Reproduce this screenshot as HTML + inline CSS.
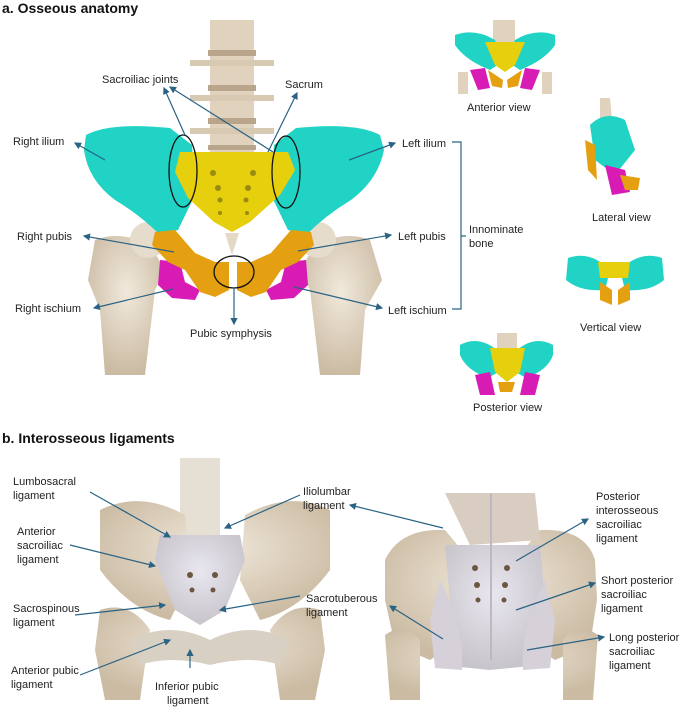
<!DOCTYPE html>
<html><head><meta charset="utf-8"><style>
body{margin:0;background:#fff;}
svg{display:block;font-family:"Liberation Sans",Arial,sans-serif;}
.t{font-size:11px;fill:#222;}
.h{font-size:14px;font-weight:bold;fill:#111;}
.l{stroke:#2b6384;stroke-width:1.2;fill:none;marker-end:url(#a);}
</style></head><body>
<svg width="685" height="709" viewBox="0 0 685 709">
<defs>
<marker id="a" markerWidth="6" markerHeight="6" refX="5" refY="3" orient="auto"><path d="M0,0L6,3L0,6z" fill="#2b6384"/></marker>
<radialGradient id="g" cx="50%" cy="40%" r="60%"><stop offset="0" stop-color="#f1e9dc"/><stop offset="1" stop-color="#cbbba3"/></radialGradient>
<radialGradient id="w" cx="50%" cy="40%" r="60%"><stop offset="0" stop-color="#e8e6ee"/><stop offset="1" stop-color="#c8c4cc"/></radialGradient>
</defs>
<text x="2" y="13" class="h">a. Osseous anatomy</text>
<text x="2" y="443" class="h">b. Interosseous ligaments</text>

<!-- femurs -->
<path d="M95,240 Q120,230 150,245 L165,270 L155,290 L145,375 L105,375 L100,310 L88,280 Z" fill="url(#g)"/>
<path d="M370,240 Q345,230 315,245 L300,270 L310,290 L320,375 L360,375 L365,310 L382,280 Z" fill="url(#g)"/>
<circle cx="148" cy="240" r="18" fill="#e6dccb"/><circle cx="318" cy="240" r="18" fill="#e6dccb"/>
<!-- spine -->
<rect x="210" y="20" width="44" height="135" fill="#e0d2bd"/>
<g fill="#b9a48c"><rect x="208" y="50" width="48" height="6"/><rect x="208" y="85" width="48" height="6"/><rect x="208" y="118" width="48" height="6"/><rect x="208" y="145" width="48" height="5"/></g>
<rect x="190" y="60" width="84" height="6" fill="#d8c9b3"/><rect x="190" y="95" width="84" height="6" fill="#d8c9b3"/><rect x="190" y="128" width="84" height="6" fill="#d8c9b3"/>
<!-- ilia -->
<path d="M86,135 Q110,122 170,128 L192,145 L195,195 L178,230 L160,235 Q140,215 115,200 Q88,180 84,150 Z" fill="#20d3c4"/>
<path d="M380,135 Q356,122 296,128 L274,145 L271,195 L288,230 L306,235 Q326,215 351,200 Q378,180 384,150 Z" fill="#20d3c4"/>
<!-- sacrum -->
<path d="M180,152 L288,152 L295,170 L280,195 L250,222 L232,232 L214,222 L188,198 L175,172 Z" fill="#e6cf0c"/>
<g fill="#9a8a10"><circle cx="213" cy="173" r="3"/><circle cx="253" cy="173" r="3"/><circle cx="218" cy="188" r="3"/><circle cx="248" cy="188" r="3"/><circle cx="220" cy="200" r="2.5"/><circle cx="246" cy="200" r="2.5"/><circle cx="220" cy="213" r="2"/><circle cx="247" cy="213" r="2"/></g>
<path d="M225,233 L239,233 L232,255 Z" fill="#e4d8c6"/>
<!-- ischium -->
<path d="M160,260 L180,262 L185,282 L200,290 L195,300 L172,298 L158,285 Z" fill="#d81bb4"/>
<path d="M306,260 L286,262 L281,282 L266,290 L271,300 L294,298 L308,285 Z" fill="#d81bb4"/>
<!-- pubis -->
<path d="M155,232 L175,230 L195,253 L215,262 L229,262 L229,290 L215,297 L200,292 L185,270 L168,262 L152,245 Z" fill="#e5a012"/>
<path d="M311,232 L291,230 L271,253 L251,262 L237,262 L237,290 L251,297 L266,292 L281,270 L298,262 L314,245 Z" fill="#e5a012"/>
<!-- ellipses -->
<ellipse cx="183" cy="171" rx="14" ry="36" fill="none" stroke="#111" stroke-width="1.3"/>
<ellipse cx="286" cy="172" rx="14" ry="36" fill="none" stroke="#111" stroke-width="1.3"/>
<ellipse cx="234" cy="272" rx="20" ry="16" fill="none" stroke="#111" stroke-width="1.3"/>
<!-- labels -->
<text x="102" y="83" class="t">Sacroiliac joints</text>
<text x="285" y="88" class="t">Sacrum</text>
<text x="13" y="145" class="t">Right ilium</text>
<text x="17" y="240" class="t">Right pubis</text>
<text x="15" y="312" class="t">Right ischium</text>
<text x="190" y="337" class="t">Pubic symphysis</text>
<text x="402" y="147" class="t">Left ilium</text>
<text x="398" y="240" class="t">Left pubis</text>
<text x="388" y="314" class="t">Left ischium</text>
<text x="469" y="233" class="t">Innominate</text>
<text x="469" y="247" class="t">bone</text>
<path d="M185,135 L164,88" class="l"/><path d="M273,152 L170,87" class="l"/>
<path d="M268,152 L297,93" class="l"/>
<path d="M105,160 L75,143" class="l"/><path d="M174,252 L84,236" class="l"/>
<path d="M173,289 L94,308" class="l"/><path d="M234,288 L234,324" class="l"/>
<path d="M349,160 L395,143" class="l"/><path d="M298,251 L391,235" class="l"/>
<path d="M294,287 L382,308" class="l"/>
<path d="M452,142 H461 V309 H452 M461,236 H466" stroke="#2b6384" stroke-width="1.2" fill="none"/>
<!-- small views -->
<rect x="493" y="20" width="22" height="30" fill="#e0d2bd"/>
<path d="M455,35 Q475,28 495,40 L505,60 L490,70 Q465,60 455,45Z M555,35 Q535,28 515,40 L505,60 L520,70 Q545,60 555,45Z" fill="#20d3c4"/>
<path d="M485,42 L525,42 L515,65 L505,72 L495,65Z" fill="#e6cf0c"/>
<path d="M470,70 L485,68 L490,88 L478,90Z M540,70 L525,68 L520,88 L532,90Z" fill="#d81bb4"/>
<path d="M488,70 L503,80 L502,88 L492,86Z M522,70 L507,80 L508,88 L518,86Z" fill="#e5a012"/>
<rect x="458" y="72" width="10" height="22" fill="#e0d2bd"/><rect x="542" y="72" width="10" height="22" fill="#e0d2bd"/>
<text x="467" y="111" class="t">Anterior view</text>
<path d="M600,98 L610,98 L612,120 L600,125Z" fill="#e0d2bd"/>
<path d="M590,125 Q605,110 625,120 L635,150 L615,175 L595,160Z" fill="#20d3c4"/>
<path d="M585,140 L595,145 L597,180 L588,170Z" fill="#e5a012"/>
<path d="M605,165 L625,170 L630,192 L612,195Z" fill="#d81bb4"/>
<path d="M620,175 L640,178 L638,190 L625,190Z" fill="#e5a012"/>
<text x="592" y="221" class="t">Lateral view</text>
<path d="M568,258 Q590,250 610,270 L605,290 Q580,292 566,280Z M662,258 Q640,250 620,270 L625,290 Q650,292 664,280Z" fill="#20d3c4"/>
<path d="M598,262 L630,262 L628,278 L600,278Z" fill="#e6cf0c"/>
<path d="M600,282 L612,290 L612,305 L600,300Z M630,282 L618,290 L618,305 L630,300Z" fill="#e5a012"/>
<text x="580" y="331" class="t">Vertical view</text>
<rect x="497" y="333" width="20" height="15" fill="#e0d2bd"/>
<path d="M460,345 Q478,335 497,350 L502,370 L488,378 Q466,370 460,355Z M553,345 Q535,335 517,350 L512,370 L526,378 Q548,370 553,355Z" fill="#20d3c4"/>
<path d="M490,348 L525,348 L520,372 L507,382 L495,372Z" fill="#e6cf0c"/>
<path d="M475,375 L490,372 L495,395 L480,395Z M540,375 L525,372 L520,395 L535,395Z" fill="#d81bb4"/>
<path d="M498,382 L515,382 L512,392 L500,392Z" fill="#e5a012"/>
<text x="473" y="411" class="t">Posterior view</text>

<!-- b left -->
<rect x="180" y="458" width="40" height="110" fill="#e6dfd4"/>
<path d="M100,510 Q140,490 185,515 L190,580 L170,620 Q130,610 100,570 Z M330,510 Q290,490 245,515 L240,580 L260,620 Q300,610 330,570Z" fill="url(#g)"/>
<path d="M160,535 L240,535 L245,560 L225,610 L200,625 L175,610 L155,560Z" fill="url(#w)"/>
<path d="M100,610 Q130,600 150,630 L140,700 L105,700 L95,650Z M320,610 Q290,600 270,630 L280,700 L315,700 L325,650Z" fill="url(#g)"/>
<path d="M130,640 Q170,620 210,640 Q250,620 290,640 L280,665 Q250,655 210,665 Q170,655 140,665Z" fill="#d9d0c4"/>
<g fill="#6b5640"><circle cx="190" cy="575" r="3"/><circle cx="215" cy="575" r="3"/><circle cx="192" cy="590" r="2.5"/><circle cx="213" cy="590" r="2.5"/></g>
<!-- b right -->
<path d="M385,560 Q400,528 445,530 L470,560 L460,640 L430,660 L395,645 L385,600Z M595,560 Q585,528 540,530 L515,560 L525,640 L555,660 L590,645 L597,600Z" fill="url(#g)"/>
<path d="M445,493 L535,493 L540,540 L470,545 Z" fill="#d8cdc0"/>
<path d="M445,545 L540,545 L545,600 L540,665 L490,670 L440,665 L450,600Z" fill="url(#w)"/>
<path d="M440,580 Q465,630 462,670 L435,668 L430,620Z M545,580 Q520,630 523,670 L550,668 L555,620Z" fill="#d6d0d8"/>
<path d="M385,635 Q405,620 420,640 L420,700 L390,700Z M598,635 Q578,620 563,640 L563,700 L593,700Z" fill="url(#g)"/>
<g fill="#6b5640"><circle cx="475" cy="568" r="3"/><circle cx="507" cy="568" r="3"/><circle cx="477" cy="585" r="3"/><circle cx="505" cy="585" r="3"/><circle cx="478" cy="600" r="2.5"/><circle cx="504" cy="600" r="2.5"/></g>
<line x1="491" y1="493" x2="491" y2="660" stroke="#bfb8c0" stroke-width="2"/>
<!-- b labels -->
<text x="13" y="485" class="t">Lumbosacral</text><text x="13" y="499" class="t">ligament</text>
<text x="17" y="535" class="t">Anterior</text><text x="17" y="549" class="t">sacroiliac</text><text x="17" y="563" class="t">ligament</text>
<text x="13" y="612" class="t">Sacrospinous</text><text x="13" y="626" class="t">ligament</text>
<text x="11" y="674" class="t">Anterior pubic</text><text x="11" y="688" class="t">ligament</text>
<text x="155" y="690" class="t">Inferior pubic</text><text x="167" y="704" class="t">ligament</text>
<text x="303" y="495" class="t">Iliolumbar</text><text x="303" y="509" class="t">ligament</text>
<text x="306" y="602" class="t">Sacrotuberous</text><text x="306" y="616" class="t">ligament</text>
<text x="596" y="500" class="t">Posterior</text><text x="596" y="514" class="t">interosseous</text><text x="596" y="528" class="t">sacroiliac</text><text x="596" y="542" class="t">ligament</text>
<text x="601" y="584" class="t">Short posterior</text><text x="601" y="598" class="t">sacroiliac</text><text x="601" y="612" class="t">ligament</text>
<text x="609" y="641" class="t">Long posterior</text><text x="609" y="655" class="t">sacroiliac</text><text x="609" y="669" class="t">ligament</text>
<path d="M90,492 L170,537" class="l"/><path d="M70,545 L155,566" class="l"/>
<path d="M75,615 L165,605" class="l"/><path d="M80,675 L170,640" class="l"/>
<path d="M190,668 L190,650" class="l"/>
<path d="M300,495 L225,528" class="l"/><path d="M300,596 L220,610" class="l"/>
<path d="M443,639 L390,606" class="l"/><path d="M443,528 L350,505" class="l"/>
<path d="M516,561 L588,519" class="l"/><path d="M516,610 L595,583" class="l"/>
<path d="M527,650 L604,637" class="l"/>
</svg>
</body></html>
